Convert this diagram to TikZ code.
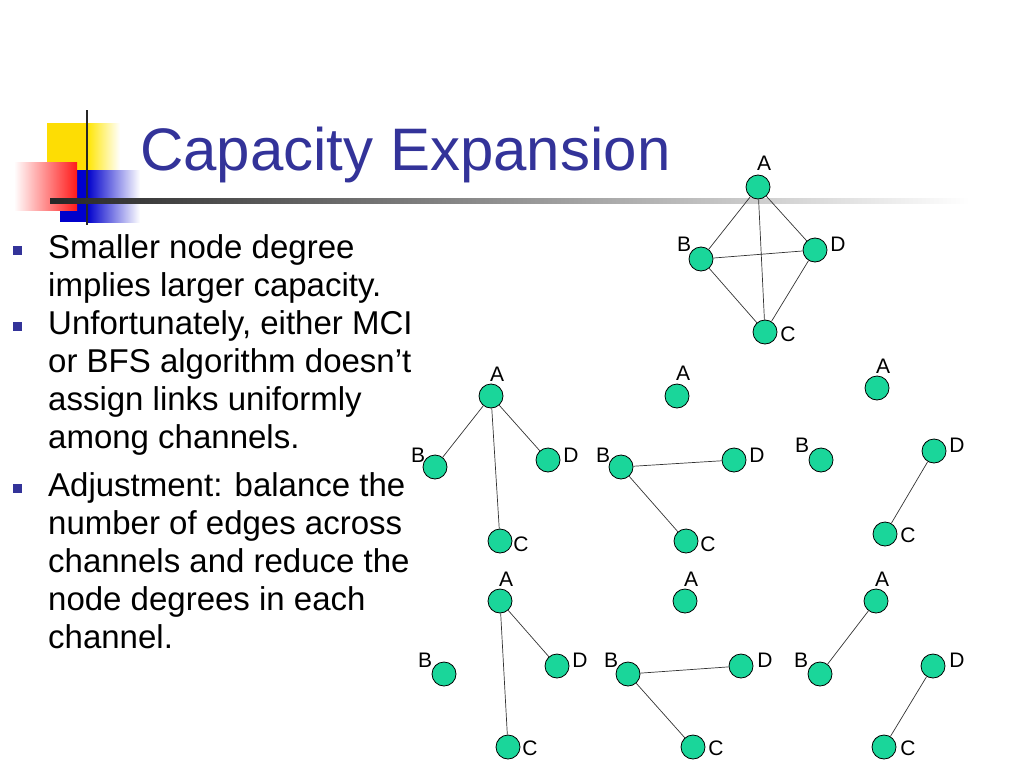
\documentclass[tikz,border=0pt]{standalone}
\usepackage{fontspec}
\setmainfont{Liberation Sans}
\begin{document}
\begin{tikzpicture}[x=1pt,y=-1pt,
  nd/.style={circle,draw=black,fill=nodegreen,minimum size=24pt,inner sep=0pt,line width=0.8pt},
  lb/.style={font=\fontsize{21}{21}\selectfont,inner sep=0pt},
  ed/.style={draw=black!80,line width=0.7pt},
  bt/.style={anchor=base west,font=\fontsize{33}{33}\selectfont,inner sep=0pt},
  bul/.style={fill=titleblue,minimum size=9pt,inner sep=0pt}]
\definecolor{nodegreen}{RGB}{26,214,154}
\definecolor{titleblue}{RGB}{51,51,153}
\useasboundingbox (0,0) rectangle (1024,768);
% logo
\fill[yellow!80!orange] (47,123) rectangle (87,170);
\shade[left color=yellow!80!orange,right color=white] (87,123) rectangle (120,170);
\fill[blue!80!black] (60,170) rectangle (87,222);
\shade[left color=blue!80!black,right color=white] (87,170) rectangle (140,222);
\shade[left color=white,right color=red!90] (14,162) rectangle (77,210);
\draw[line width=2pt,black!85] (87,110) -- (87,225);
\shade[left color=black!85,right color=white] (50,198) rectangle (970,203);
\node[anchor=base west,text=titleblue,font=\fontsize{60}{60}\selectfont,inner sep=0pt] (title) at (140,170) {Capacity Expansion};
% bullets
\node[bul] (b1) at (17,250) {};
\node[bul] (b2) at (17,326) {};
\node[bul] (b3) at (17,488) {};
\node[bt] (t1) at (48,258) {Smaller node degree};
\node[bt] (t2) at (48,296) {implies larger capacity.};
\node[bt] (t3) at (48,334) {Unfortunately, either MCI};
\node[bt] (t4) at (48,372) {or BFS algorithm doesn’t};
\node[bt] (t5) at (48,410) {assign links uniformly};
\node[bt] (t6) at (48,448) {among channels.};
\node[bt] (t7) at (48,496) {Adjustment: balance the};
\node[bt] (t8) at (48,534) {number of edges across};
\node[bt] (t9) at (48,572) {channels and reduce the};
\node[bt] (t10) at (48,610) {node degrees in each};
\node[bt] (t11) at (48,648) {channel.};
% top
\node[nd] (A0) at (758,187) {}; \node[nd] (B0) at (701,259) {};
\node[nd] (D0) at (815,250) {}; \node[nd] (C0) at (765,332) {};
\node[lb] (la0) at (764,163) {A}; \node[lb] (lb0) at (684,244) {B};
\node[lb] (ld0) at (838,244) {D}; \node[lb] (lc0) at (788,334) {C};
\draw[ed] (A0)--(B0) (A0)--(D0) (A0)--(C0) (B0)--(D0) (B0)--(C0) (D0)--(C0);
% row 1 g1
\node[nd] (A1) at (491,396) {}; \node[nd] (B1) at (435,467) {};
\node[nd] (D1) at (548,460) {}; \node[nd] (C1) at (500,541) {};
\node[lb] at (497,374) {A}; \node[lb] at (418,455) {B};
\node[lb] at (571,455) {D}; \node[lb] at (521,544) {C};
\draw[ed] (A1)--(B1) (A1)--(D1) (A1)--(C1);
% row 1 g2
\node[nd] (A2) at (677,396) {}; \node[nd] (B2) at (621,467) {};
\node[nd] (D2) at (734,460) {}; \node[nd] (C2) at (686,541) {};
\node[lb] at (683,373) {A}; \node[lb] at (603,455) {B};
\node[lb] at (757,455) {D}; \node[lb] at (708,544) {C};
\draw[ed] (B2)--(D2) (B2)--(C2);
% row 1 g3
\node[nd] (A3) at (877,388) {}; \node[nd] (B3) at (821,460) {};
\node[nd] (D3) at (934,451) {}; \node[nd] (C3) at (885,534) {};
\node[lb] at (883,366) {A}; \node[lb] at (802,445) {B};
\node[lb] at (957,445) {D}; \node[lb] at (908,535) {C};
\draw[ed] (D3)--(C3);
% row 2 g1
\node[nd] (A4) at (500,601) {}; \node[nd] (B4) at (444,674) {};
\node[nd] (D4) at (557,666) {}; \node[nd] (C4) at (508,747) {};
\node[lb] at (506,579) {A}; \node[lb] at (425,660) {B};
\node[lb] at (580,660) {D}; \node[lb] at (530,748) {C};
\draw[ed] (A4)--(D4) (A4)--(C4);
% row 2 g2
\node[nd] (A5) at (685,601) {}; \node[nd] (B5) at (628,674) {};
\node[nd] (D5) at (741,666) {}; \node[nd] (C5) at (693,747) {};
\node[lb] at (691,579) {A}; \node[lb] at (611,660) {B};
\node[lb] at (765,660) {D}; \node[lb] at (716,748) {C};
\draw[ed] (B5)--(D5) (B5)--(C5);
% row 2 g3
\node[nd] (A6) at (876,601) {}; \node[nd] (B6) at (820,674) {};
\node[nd] (D6) at (933,666) {}; \node[nd] (C6) at (884,747) {};
\node[lb] at (882,579) {A}; \node[lb] at (801,660) {B};
\node[lb] at (957,660) {D}; \node[lb] at (908,748) {C};
\draw[ed] (A6)--(B6) (D6)--(C6);
\end{tikzpicture}
\end{document}
